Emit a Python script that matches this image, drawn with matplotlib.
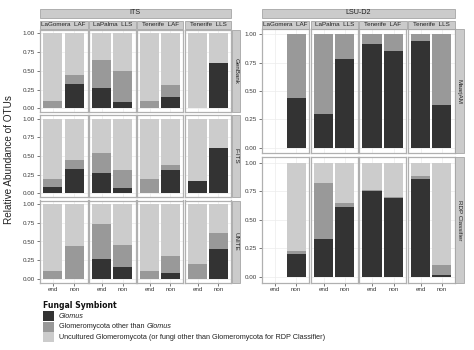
import matplotlib
matplotlib.use("Agg")
import matplotlib.pyplot as plt
from matplotlib.patches import Rectangle

plt.rcParams['font.family'] = ['Liberation Sans', 'DejaVu Sans']

# ---------------- data ----------------
sites = ["LaGomera  LAF", "LaPalma  LLS", "Tenerife  LAF", "Tenerife  LLS"]
types = ["end", "non"]
colors = ["#333333", "#999999", "#cccccc"]

# order: site1 end, site1 non, site2 end, site2 non, ...
its_genbank_glomus = [0.00, 0.33, 0.27, 0.08, 0.00, 0.155, 0.00, 0.60]
its_genbank_other  = [0.10, 0.11, 0.37, 0.42, 0.10, 0.155, 0.00, 0.00]
its_genbank_unc    = [0.90, 0.56, 0.36, 0.50, 0.90, 0.69, 1.00, 0.40]

its_fits_glomus = [0.09, 0.33, 0.27, 0.07, 0.00, 0.31, 0.16, 0.60]
its_fits_other  = [0.10, 0.11, 0.275, 0.24, 0.195, 0.07, 0.00, 0.00]
its_fits_unc    = [0.81, 0.56, 0.455, 0.69, 0.805, 0.62, 0.84, 0.40]

its_unite_glomus = [0.00, 0.00, 0.27, 0.155, 0.00, 0.075, 0.00, 0.40]
its_unite_other  = [0.10, 0.44, 0.46, 0.30, 0.10, 0.225, 0.20, 0.21]
its_unite_unc    = [0.90, 0.56, 0.27, 0.545, 0.90, 0.70, 0.80, 0.39]

lsu_maarjam_glomus = [0.00, 0.44, 0.30, 0.78, 0.92, 0.85, 0.94, 0.375]
lsu_maarjam_other  = [0.00, 0.56, 0.70, 0.22, 0.08, 0.15, 0.06, 0.625]
lsu_maarjam_unc    = [0.00, 0.00, 0.00, 0.00, 0.00, 0.00, 0.00, 0.00]

lsu_rdp_glomus = [0.00, 0.20, 0.335, 0.615, 0.755, 0.69, 0.86, 0.02]
lsu_rdp_other  = [0.00, 0.025, 0.49, 0.035, 0.01, 0.01, 0.025, 0.085]
lsu_rdp_unc    = [0.00, 0.775, 0.175, 0.35, 0.235, 0.30, 0.115, 0.895]

its_rows = ["GenBank", "F-ITS", "UNITE"]
lsu_rows = ["MaarjAM", "RDP Classifier"]
its_data = [(its_genbank_glomus, its_genbank_other, its_genbank_unc),
            (its_fits_glomus, its_fits_other, its_fits_unc),
            (its_unite_glomus, its_unite_other, its_unite_unc)]
lsu_data = [(lsu_maarjam_glomus, lsu_maarjam_other, lsu_maarjam_unc),
            (lsu_rdp_glomus, lsu_rdp_other, lsu_rdp_unc)]
yticks = [0.0, 0.25, 0.50, 0.75, 1.00]
ytick_labels = ["0.00", "0.25", "0.50", "0.75", "1.00"]

# ---------------- layout ----------------
W, H = 474, 350
fig = plt.figure(figsize=(W / 100, H / 100), dpi=100)
fig.patch.set_facecolor("white")

STRIP_FILL = "#cbcbcb"
STRIP_EDGE = "#a5a5a5"
TXT = "#3a3a3a"


def rect_px(x, y, w, h, fc, ec=None, lw=0.6):
    r = Rectangle((x / W, 1 - (y + h) / H), w / W, h / H, transform=fig.transFigure,
                  facecolor=fc, edgecolor=ec if ec else "none", linewidth=lw)
    fig.add_artist(r)


def text_px(x, y, s, **kw):
    return fig.text(x / W, 1 - y / H, s, **kw)


def add_ax(x0, y0, x1, y1):
    return fig.add_axes([x0 / W, 1 - y1 / H, (x1 - x0) / W, (y1 - y0) / H])


def draw_block(panel_x, row_y, data, rows, title, strip_x):
    x_left = panel_x[0][0]
    x_right = panel_x[-1][1]
    rect_px(x_left, 8.5, x_right - x_left, 9, STRIP_FILL, STRIP_EDGE)
    text_px((x_left + x_right) / 2, 13, title, ha="center", va="center", fontsize=5.2, color="#222222")
    for j, (px0, px1) in enumerate(panel_x):
        rect_px(px0, 20.5, px1 - px0, 8.5, STRIP_FILL, STRIP_EDGE)
        text_px((px0 + px1) / 2, 24.8, sites[j], ha="center", va="center", fontsize=4.5, color="#222222")
    for i, (ry0, ry1) in enumerate(row_y):
        g, o, u = data[i]
        for j, (px0, px1) in enumerate(panel_x):
            ax = add_ax(px0, ry0, px1, ry1)
            xs = [0, 1]
            gg = g[2 * j:2 * j + 2]
            oo = o[2 * j:2 * j + 2]
            uu = u[2 * j:2 * j + 2]
            ax.bar(xs, gg, width=0.9, color=colors[0], zorder=3)
            ax.bar(xs, oo, width=0.9, bottom=gg, color=colors[1], zorder=3)
            ax.bar(xs, uu, width=0.9, bottom=[a + b for a, b in zip(gg, oo)], color=colors[2], zorder=3)
            ax.set_xlim(-0.6, 1.6)
            ax.set_ylim(-0.05, 1.05)
            ax.set_facecolor("white")
            ax.set_yticks(yticks)
            ax.set_xticks(xs)
            ax.grid(True, color="#ececec", linewidth=0.5, zorder=0)
            ax.set_axisbelow(True)
            for sp in ax.spines.values():
                sp.set_color("#b0b0b0")
                sp.set_linewidth(0.9)
            ax.tick_params(length=2, width=0.5, color="#444444", pad=1.5, labelsize=4.5,
                           labelcolor=TXT)
            if j == 0:
                ax.set_yticklabels(ytick_labels)
            else:
                ax.set_yticklabels([])
                ax.tick_params(axis="y", length=0)
            if i == len(row_y) - 1:
                ax.set_xticklabels(types)
            else:
                ax.set_xticklabels([])
                ax.tick_params(axis="x", length=0)
        rect_px(strip_x, ry0, 8.5, ry1 - ry0, STRIP_FILL, STRIP_EDGE)
        text_px(strip_x + 4.3, (ry0 + ry1) / 2, rows[i], ha="center", va="center",
                rotation=-90, fontsize=4.5, color="#222222")


its_panel_x = [(39.5, 87.5), (89, 135.5), (137, 183), (185, 231)]
its_row_y = [(29.5, 112), (114.8, 197), (200.5, 282.5)]
draw_block(its_panel_x, its_row_y, its_data, its_rows, "ITS", 231.5)

lsu_panel_x = [(262, 309), (311, 357.5), (359, 406.5), (408, 454.5)]
lsu_row_y = [(28.8, 153.3), (157, 282.5)]
draw_block(lsu_panel_x, lsu_row_y, lsu_data, lsu_rows, "LSU-D2", 455)

# y-axis title
text_px(9, 160, "Relative Abundance of OTUs", rotation=90, ha="center", va="center",
        fontsize=7.2, color="#222222")

# legend
text_px(43, 305, "Fungal Symbiont", ha="left", va="center", fontsize=5.6,
        fontweight="bold", color="#111111", family="DejaVu Sans")
leg_parts = [[("Glomus", "italic")],
             [("Glomeromycota other than ", "normal"), ("Glomus", "italic")],
             [("Uncultured Glomeromycota (or fungi other than Glomeromycota for RDP Classifier)", "normal")]]
fig.canvas.draw()
renderer = fig.canvas.get_renderer()
for k in range(3):
    y = 311 + k * 10.6
    rect_px(43, y, 11, 10, colors[k])
    x = 59
    for s, style in leg_parts[k]:
        t = text_px(x, y + 5, s, ha="left", va="center", fontsize=5.2, color="#222222",
                    style=style)
        bb = t.get_window_extent(renderer=renderer)
        x += bb.width
        if s.endswith(" "):
            pass

fig.savefig("out.png", dpi=100)
